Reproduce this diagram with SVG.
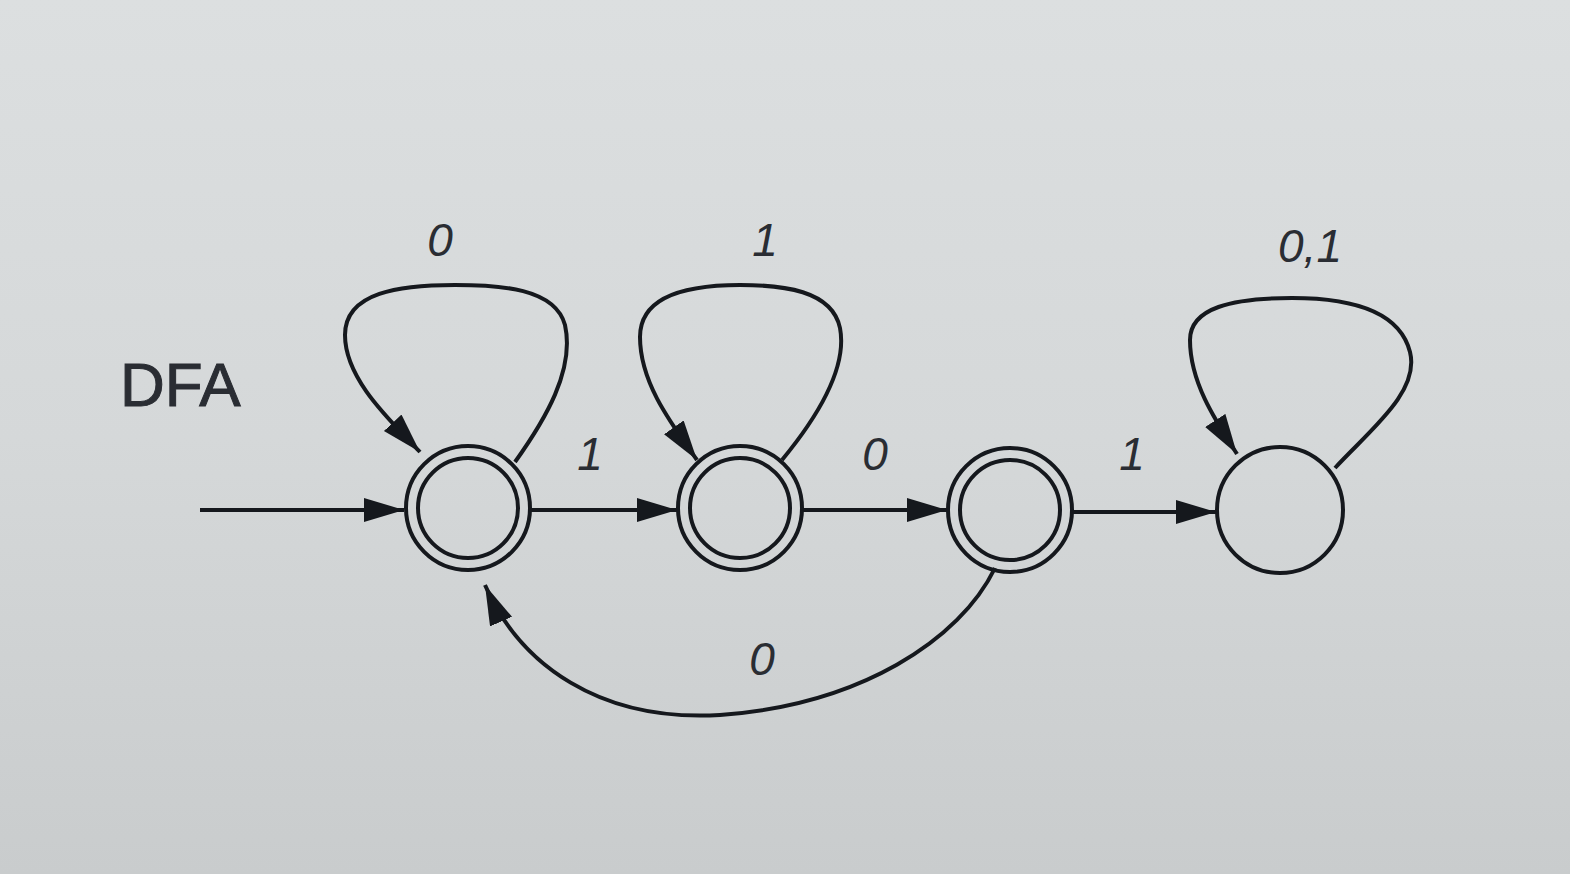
<svg xmlns="http://www.w3.org/2000/svg" width="1570" height="874" viewBox="0 0 1570 874">
<defs>
<linearGradient id="bg" x1="0" y1="0" x2="0" y2="1">
<stop offset="0" stop-color="#dcdfe0"/>
<stop offset="0.5" stop-color="#d5d8d9"/>
<stop offset="1" stop-color="#c9cccd"/>
</linearGradient>
<marker id="ah" markerUnits="userSpaceOnUse" markerWidth="44" markerHeight="30" refX="40" refY="12" orient="auto">
<path d="M0,0 L40,12 L0,24 Z" fill="#15181d"/>
</marker>
<style>
.edge{fill:none;stroke:#15181d;stroke-width:4}
.st{fill:none;stroke:#15181d;stroke-width:4}
.lbl{font-family:"Liberation Sans",Arial,sans-serif;font-style:italic;font-size:46px;fill:#2a2d33;text-anchor:middle}
.title{font-family:"Liberation Sans",Arial,sans-serif;font-size:62px;fill:#2a2d33;stroke:#2a2d33;stroke-width:1}
</style>
</defs>
<rect width="1570" height="874" fill="url(#bg)"/>
<text class="title" x="120" y="406">DFA</text>
<g id="q0"><circle class="st" cx="468" cy="508" r="62"/><circle class="st" cx="468" cy="508" r="50"/></g>
<g id="q1"><circle class="st" cx="740" cy="508" r="62"/><circle class="st" cx="740" cy="508" r="50"/></g>
<g id="q2"><circle class="st" cx="1010" cy="510" r="62"/><circle class="st" cx="1010" cy="510" r="50"/></g>
<g id="q3"><circle class="st" cx="1280" cy="510" r="63"/></g>
<g id="connectors">
<path class="edge" d="M200 510 L404 510" marker-end="url(#ah)"/>
<path class="edge" d="M531 510 L677 510" marker-end="url(#ah)"/>
<path class="edge" d="M803 510 L947 510" marker-end="url(#ah)"/>
<path class="edge" d="M1073 512 L1216 512" marker-end="url(#ah)"/>
<path class="edge" d="M515 462 C545 420 575 370 565 325 C555 288 500 285 455 285 C400 285 345 292 345 335 C345 380 392 422 420 452" marker-end="url(#ah)"/>
<path class="edge" d="M782 460 C815 420 848 370 840 328 C832 290 782 285 740 285 C690 285 640 295 640 337 C640 382 670 422 697 460" marker-end="url(#ah)"/>
<path class="edge" d="M1335 468 C1370 430 1420 392 1410 352 C1398 305 1335 298 1292 298 C1232 298 1190 308 1190 340 C1190 382 1215 420 1237 454" marker-end="url(#ah)"/>
<path class="edge" d="M995 568 C960 640 860 705 720 715 C600 722 520 665 485 585" marker-end="url(#ah)"/>
</g>
<g id="labels">
<text class="lbl" x="440" y="256">0</text>
<text class="lbl" x="765" y="256">1</text>
<text class="lbl" x="1310" y="262">0,1</text>
<text class="lbl" x="590" y="470">1</text>
<text class="lbl" x="875" y="470">0</text>
<text class="lbl" x="1132" y="470">1</text>
<text class="lbl" x="762" y="675">0</text>
</g>
</svg>
